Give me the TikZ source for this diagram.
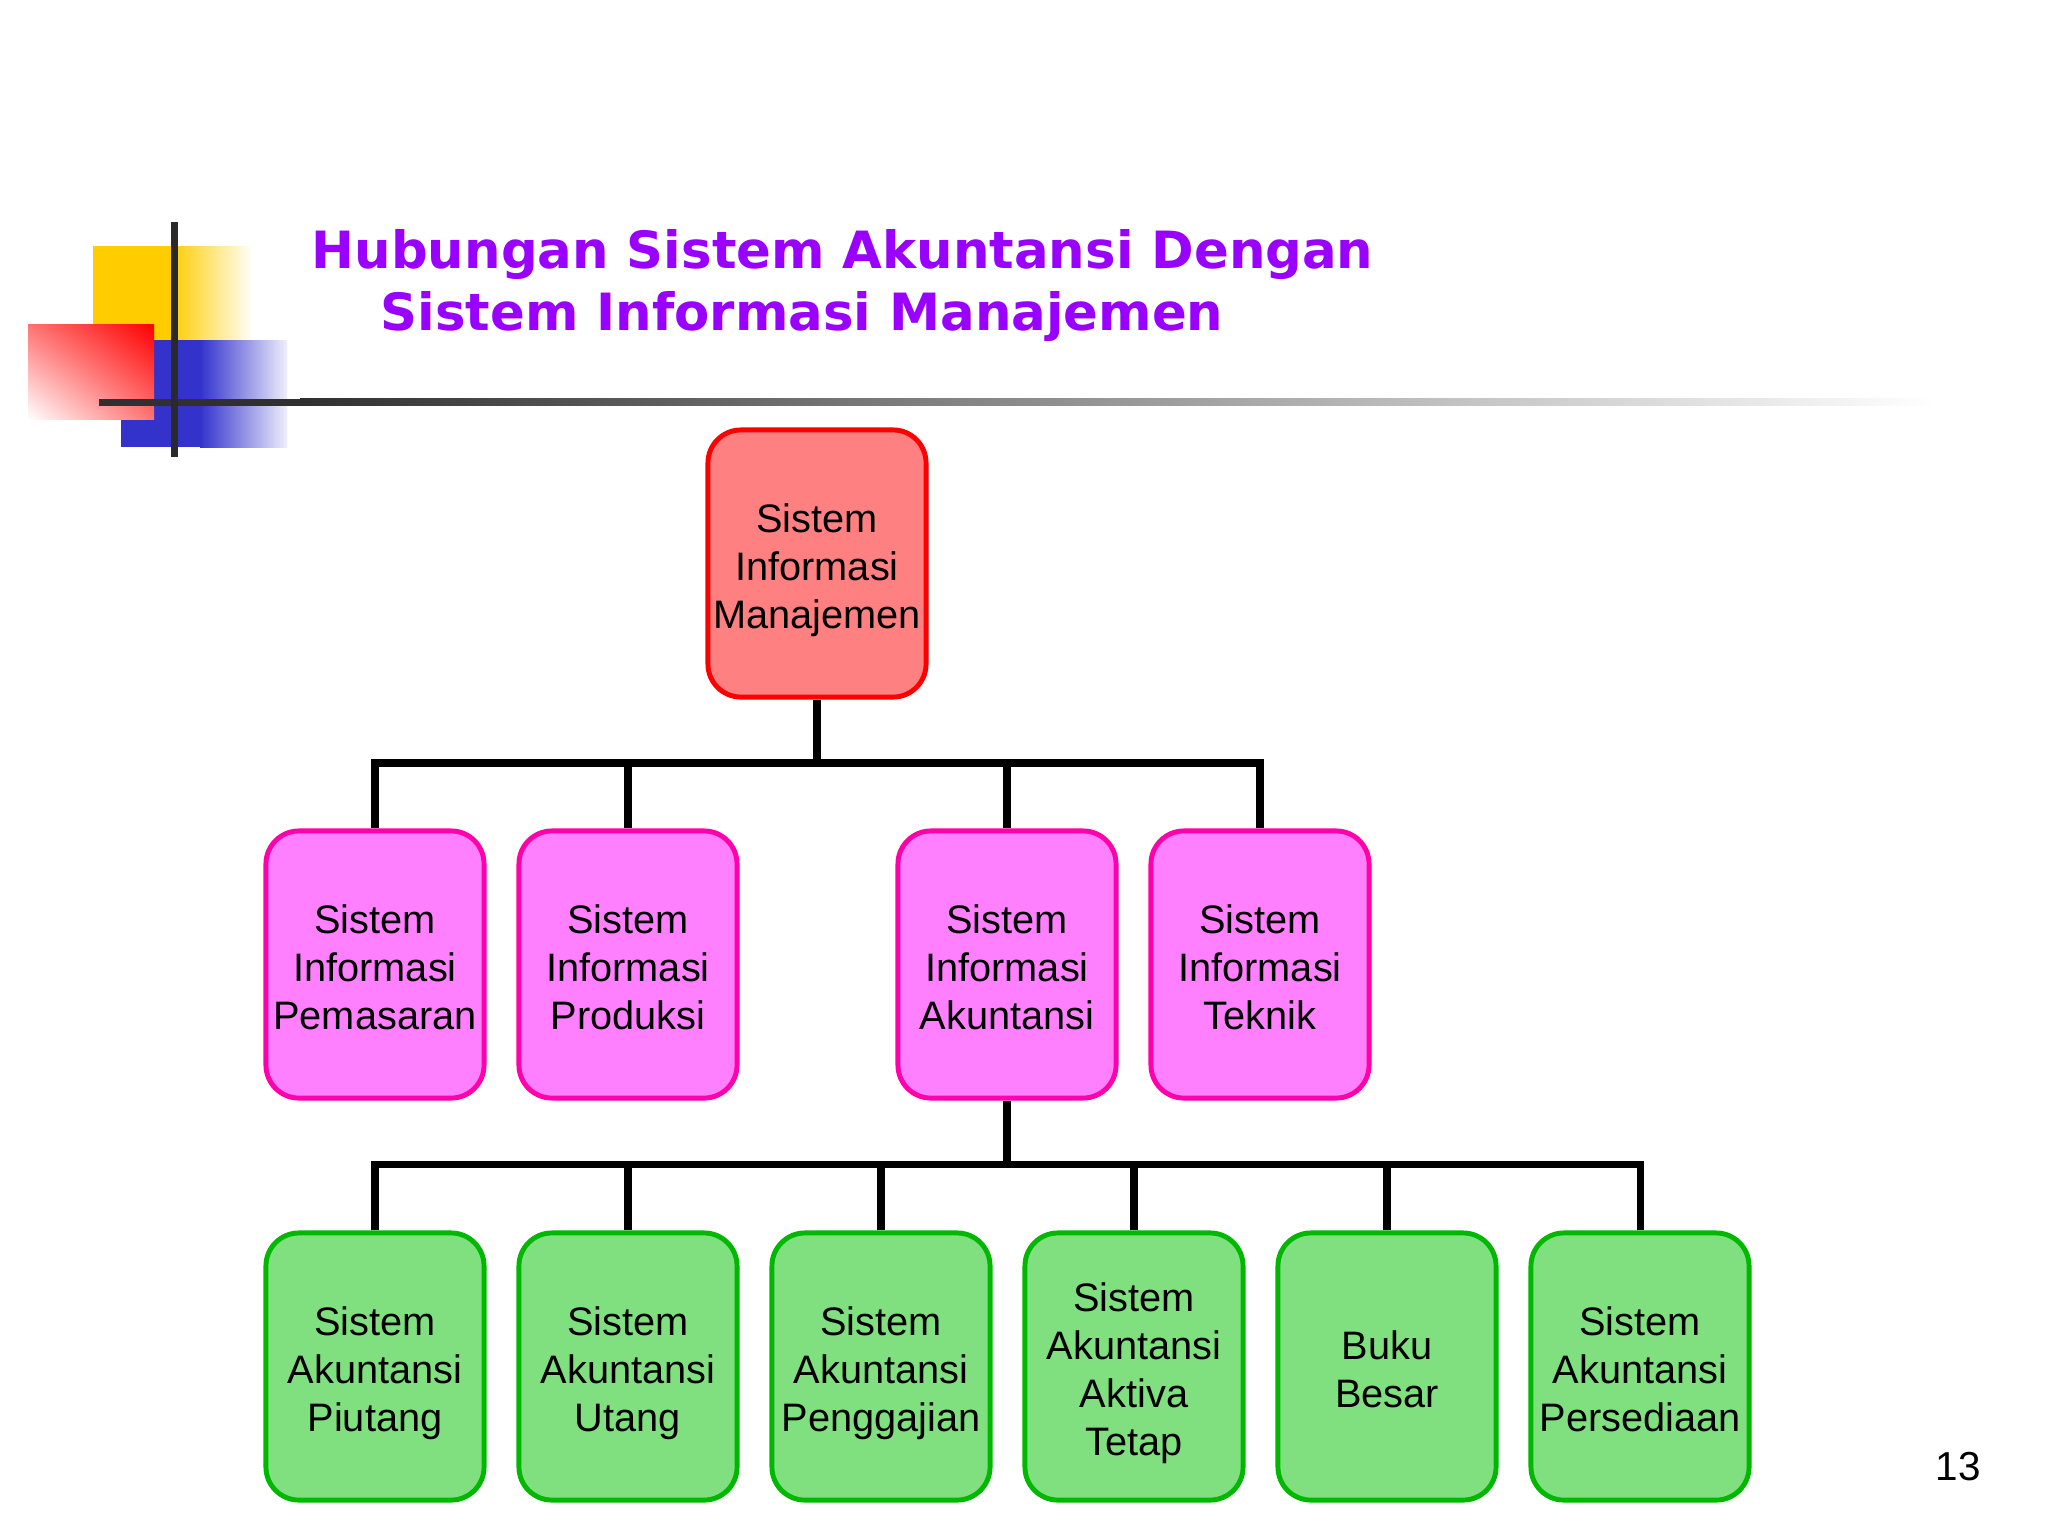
\documentclass[tikz,border=0pt]{standalone}
\usepackage{fontspec}
\usetikzlibrary{shadings}
\setmainfont{Liberation Sans}
\newfontfamily\titlefont{DejaVu Sans}
\definecolor{ttl}{HTML}{9900FF}
\definecolor{simfill}{HTML}{FF8080}
\definecolor{simdraw}{HTML}{FF0000}
\definecolor{subfill}{HTML}{FF80FF}
\definecolor{subdraw}{HTML}{FF00AA}
\definecolor{accfill}{HTML}{80E080}
\definecolor{accdraw}{HTML}{00B800}
\definecolor{yellowc}{HTML}{FFCC00}
\definecolor{bluec}{HTML}{3333CC}
\definecolor{lgc}{HTML}{2A2A2A}
\definecolor{lgd}{HTML}{303030}
\newcommand\topstr{\rule{0pt}{12.6pt}}
\newcommand\botstr{\rule[-3pt]{0pt}{3pt}}
\begin{document}
\begin{tikzpicture}[x=0.01cm,y=-0.01cm,
  box/.style={rounded corners=0.33cm, line width=1.4pt, minimum width=2.18cm,
    minimum height=2.67cm, inner sep=0pt, align=center,
    font=\fontsize{11.3}{13.6}\selectfont, text=black},
  simbox/.style={box, fill=simfill, draw=simdraw},
  subbox/.style={box, fill=subfill, draw=subdraw},
  accbox/.style={box, fill=accfill, draw=accdraw},
  conn/.style={line width=2pt, draw=black},
  ttlfont/.style={anchor=base west, inner sep=0pt, text=ttl,
    font=\titlefont\bfseries\fontsize{14.6}{17}\selectfont}]
\useasboundingbox[fill=white] (0,0) rectangle (2048,1536);
% logo
\fill[yellowc] (93,246) rectangle (172,340);
\shade[left color=yellowc, right color=white] (171,246) rectangle (253,340);
\fill[bluec] (121,340) rectangle (201,447);
\shade[left color=bluec, right color=bluec!8!white] (200,340) rectangle (287,447);
\shade[upper left=red!55!white, upper right=red, lower left=white, lower right=red!55!white] (28,324) rectangle (154,419);
\fill[lgd] (99,398.5) rectangle (302,405.5);
\shade[left color=lgd, right color=white] (300,398.5) rectangle (1935,405.5);
\fill[lgc] (170.5,222) rectangle (177.5,457);
% title
\node[ttlfont] (t1) at (311,268) {Hubungan Sistem Akuntansi Dengan};
\node[ttlfont] (t2) at (380,330) {Sistem Informasi Manajemen};
% boxes
\node[simbox] (sim) at (817,563.5) {\topstr Sistem\\Informasi\\Manajemen\botstr};
\node[subbox] (sip) at (375,964.5) {\topstr Sistem\\Informasi\\Pemasaran\botstr};
\node[subbox] (spr) at (628,964.5) {\topstr Sistem\\Informasi\\Produksi\botstr};
\node[subbox] (sia) at (1007,964.5) {\topstr Sistem\\Informasi\\Akuntansi\botstr};
\node[subbox] (sit) at (1260,964.5) {\topstr Sistem\\Informasi\\Teknik\botstr};
\node[accbox] (a1) at (375,1366.5) {\topstr Sistem\\Akuntansi\\Piutang\botstr};
\node[accbox] (a2) at (628,1366.5) {\topstr Sistem\\Akuntansi\\Utang\botstr};
\node[accbox] (a3) at (881,1366.5) {\topstr Sistem\\Akuntansi\\Penggajian\botstr};
\node[accbox] (a4) at (1134,1366.5) {\topstr Sistem\\Akuntansi\\Aktiva\\Tetap\botstr};
\node[accbox] (a5) at (1387,1366.5) {\topstr Buku\\Besar\botstr};
\node[accbox] (a6) at (1640,1366.5) {\topstr Sistem\\Akuntansi\\Persediaan\botstr};
% connectors
\coordinate (barA) at (817,763);
\coordinate (barB) at (1007,1164);
\draw[conn] (sim.south) -- (barA);
\foreach \n in {sip,spr,sia,sit} \draw[conn] (\n.north) |- (barA);
\draw[conn] (sia.south) -- (barB);
\foreach \n in {a1,a2,a3,a4,a5,a6} \draw[conn] (\n.north) |- (barB);
% page number
\node[font=\fontsize{11.5}{13}\selectfont, inner sep=0pt] (pg) at (1958,1467) {13};
\end{tikzpicture}
\end{document}
